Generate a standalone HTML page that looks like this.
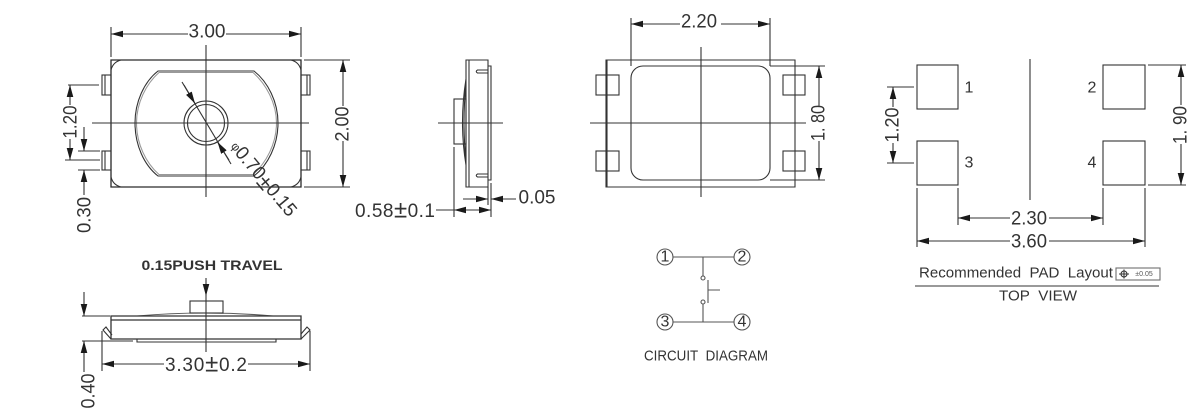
<!DOCTYPE html>
<html>
<head>
<meta charset="utf-8">
<style>
html,body{margin:0;padding:0;background:#fff;width:1199px;height:415px;overflow:hidden}
svg{display:block;filter:blur(0.35px)}
.l{stroke:#333;stroke-width:1.1;fill:none}
.b{stroke:#2a2a2a;stroke-width:1.3;fill:none}
.t{font-family:"Liberation Sans",sans-serif;font-size:19px;fill:#333;text-anchor:middle;dominant-baseline:central}
.s{font-family:"Liberation Sans",sans-serif;font-size:16px;fill:#333;text-anchor:middle;dominant-baseline:central}
.pm{font-size:24px}
</style>
</head>
<body>
<svg width="1199" height="415" viewBox="0 0 1199 415" xmlns="http://www.w3.org/2000/svg">
<defs>
<marker id="a" markerUnits="userSpaceOnUse" markerWidth="14" markerHeight="8" refX="12" refY="4" orient="auto-start-reverse">
<path d="M0 0.7L12 4L0 7.300Z" fill="#1a1a1a"/>
</marker>
</defs>

<!-- Top view -->
<g class="b">
<path d="M111 60H301V187H111Z"/>
<path d="M111 70Q113 62 121 60M291 60Q299 62 301 70M111 177Q113 185 121 187M291 187Q299 185 301 177" class="l"/>
<path d="M158 71H254C268 82 278 102 278 123C278 145 268 165 254 176H158C144 165 135 145 135 123C135 102 144 82 158 71Z" class="l"/>
<path d="M159 72.500H253C266 84 276.500 103 276.500 123C276.500 144 266 163 253 174.500H159C146 163 136.500 144 136.500 123C136.500 103 146 84 159 72.500Z" class="l" stroke-opacity=".5"/>
<circle cx="206" cy="123" r="22" class="l"/>
<circle cx="206" cy="123" r="18.500" class="l"/>
</g>
<g class="l">
<path d="M206 45V197M92 123H309"/>
<rect x="102" y="75" width="9" height="20"/><path d="M105 75V95"/>
<rect x="102" y="151" width="9" height="19"/><path d="M105 151V170"/>
<rect x="301" y="75" width="9" height="20"/><path d="M307 75V95"/>
<rect x="301" y="151" width="9" height="19"/><path d="M307 151V170"/>
<path d="M111 27V57M301 27V57"/>
<path d="M188 34H111" marker-end="url(#a)"/><path d="M226 34H301" marker-end="url(#a)"/>
<path d="M304 60H350M304 187H350"/>
<path d="M343 106V60" marker-end="url(#a)"/><path d="M343 141V187" marker-end="url(#a)"/>
<path d="M68 85H99M65 160H100M78 151H100M78 170H100"/>
<path d="M70 105V85" marker-end="url(#a)"/><path d="M70 139V160" marker-end="url(#a)"/>
<path d="M84 127V151" marker-end="url(#a)"/><path d="M84 195V170" marker-end="url(#a)"/>
<path d="M182 82L231 164"/>
<path d="M184 85L195 103.500" marker-end="url(#a)"/>
<path d="M229 160L217.500 142" marker-end="url(#a)"/>
</g>
<text class="t" x="207" y="32" textLength="37" lengthAdjust="spacingAndGlyphs">3.00</text>
<text class="t" transform="rotate(-90 343 124)" x="343" y="124" textLength="35" lengthAdjust="spacingAndGlyphs">2.00</text>
<text class="t" transform="rotate(-90 71 122)" x="71" y="122" textLength="33" lengthAdjust="spacingAndGlyphs">1.20</text>
<text class="t" transform="rotate(-90 85 215)" x="85" y="215" textLength="36" lengthAdjust="spacingAndGlyphs">0.30</text>
<text class="t" transform="rotate(50 263 179)" x="263" y="179" textLength="92" lengthAdjust="spacingAndGlyphs"><tspan style="font-size:12px">&#966;</tspan>0.70<tspan style="font-size:22px">&#177;</tspan>0.15</text>

<!-- Front view -->
<text class="t" x="212" y="265" textLength="141" lengthAdjust="spacingAndGlyphs" style="font-size:14px;font-weight:bold">0.15PUSH TRAVEL</text>
<g class="l">
<path d="M206 278V296" marker-end="url(#a)"/>
<path d="M206 296V352"/>
<rect x="190" y="301" width="33" height="12"/>
<path d="M137 316Q205 310 273 316" stroke-opacity=".8"/>
<path d="M137 339V342H276V339"/>
<path d="M82 316H110M82 341H133"/>
<path d="M84 292V316" marker-end="url(#a)"/><path d="M84 372V341" marker-end="url(#a)"/>
<path d="M102 331V371M310 331V371"/>
<path d="M164 364H102" marker-end="url(#a)"/><path d="M248 364H310" marker-end="url(#a)"/>
<path d="M111 339L103 330L106 327L112 335M301 339L310 330L307 327L301 334"/>
</g>
<g class="l" style="stroke-width:1.3"><path d="M111 316H301V320H111ZM111 320V339H301V320"/></g>
<text class="t" x="206" y="365" textLength="82"><tspan>3.30</tspan><tspan class="pm" dy="-1.500">&#177;</tspan><tspan dy="1.500">0.2</tspan></text>
<text class="t" transform="rotate(-90 89 391)" x="89" y="391" textLength="35" lengthAdjust="spacingAndGlyphs">0.40</text>

<!-- Side view -->
<g class="l">
<path d="M466 60H488V187H466ZM469 60V187"/>
<path d="M488 66H491V180H488"/>
<rect x="454" y="99" width="12" height="45"/>
<path d="M466 79Q459 123 466 165M466 84Q462 123 466 160"/>
<path d="M438 123H503"/>
<path d="M488 70H477.500Q475 71.500 477.500 73H488M488 174H477.500Q475 175.500 477.500 177H488"/>
<path d="M454 147V217M491 183V217M488 187V205"/>
<path d="M436 210H454"/>
<path d="M473 210H454" marker-end="url(#a)"/><path d="M472 210H491" marker-end="url(#a)"/>
<path d="M463 199H488" marker-end="url(#a)"/><path d="M516 199H491" marker-end="url(#a)"/>
</g>
<text class="t" x="395" y="211" textLength="80"><tspan>0.58</tspan><tspan class="pm" dy="-1.500">&#177;</tspan><tspan dy="1.500">0.1</tspan></text>
<text class="t" x="537" y="198" textLength="37" lengthAdjust="spacingAndGlyphs">0.05</text>

<!-- Bottom view -->
<g class="l">
<path d="M606 60H795V187H606Z"/>
<path d="M607 60V187"/>
<rect x="631" y="66" width="139" height="114" rx="12"/>
<path d="M701 47V197M590 123H806"/>
<rect x="596" y="75" width="23" height="20"/><rect x="596" y="151" width="23" height="20"/>
<rect x="783" y="75" width="22" height="20"/><rect x="783" y="151" width="22" height="20"/>
<path d="M631 18V66M770 18V66"/>
<path d="M680 24H631" marker-end="url(#a)"/><path d="M721 24H770" marker-end="url(#a)"/>
<path d="M770 66H825M770 180H825"/>
<path d="M819 106V66" marker-end="url(#a)"/><path d="M819 141V180" marker-end="url(#a)"/>
</g>
<text class="t" x="699" y="22" textLength="36" lengthAdjust="spacingAndGlyphs">2.20</text>
<text class="t" transform="rotate(-90 819 123)" x="819" y="123" textLength="36" lengthAdjust="spacingAndGlyphs">1.&#160;80</text>

<!-- Circuit -->
<g class="l" style="stroke:#555">
<circle cx="665" cy="257" r="8"/><circle cx="742" cy="257" r="8"/>
<circle cx="665" cy="322" r="8"/><circle cx="742" cy="322" r="8"/>
<path d="M673 257H734M673 322H734M703 257V276M703 304V322"/>
<circle cx="703" cy="278" r="2"/><circle cx="703" cy="302" r="2"/>
<path d="M708 280V303M708 290H720"/>
</g>
<text class="s" x="665" y="257">1</text>
<text class="s" x="742" y="257">2</text>
<text class="s" x="665" y="322">3</text>
<text class="s" x="742" y="322">4</text>
<text class="s" x="706" y="356" textLength="124" lengthAdjust="spacingAndGlyphs" style="font-size:15px">CIRCUIT&#160;&#160;DIAGRAM</text>

<!-- PAD layout -->
<g class="l">
<rect x="917" y="65" width="41" height="44"/><rect x="917" y="141" width="41" height="44"/>
<rect x="1103" y="65" width="42" height="44"/><rect x="1103" y="141" width="42" height="44"/>
<path d="M1030 59V200"/>
<path d="M887 87H914M887 163H914"/>
<path d="M893 107V87" marker-end="url(#a)"/><path d="M893 143V163" marker-end="url(#a)"/>
<path d="M1148 65H1186M1148 185H1186"/>
<path d="M1181 105V65" marker-end="url(#a)"/><path d="M1181 144V185" marker-end="url(#a)"/>
<path d="M958 188V225M1103 188V225M917 188V247M1145 188V247"/>
<path d="M1010 218H958" marker-end="url(#a)"/><path d="M1049 218H1103" marker-end="url(#a)"/>
<path d="M1010 241H917" marker-end="url(#a)"/><path d="M1049 241H1145" marker-end="url(#a)"/>
<path d="M915 286H1159"/>
<rect x="1116" y="268" width="44" height="12" stroke-opacity=".7"/>
<circle cx="1124" cy="274" r="3"/>
<path d="M1119 274H1129M1124 269.500V278.500"/>
</g>
<text class="s" x="969" y="88">1</text>
<text class="s" x="1092" y="88">2</text>
<text class="s" x="969" y="163">3</text>
<text class="s" x="1092" y="163">4</text>
<text class="t" transform="rotate(-90 893 125)" x="893" y="125" textLength="35" lengthAdjust="spacingAndGlyphs">1.20</text>
<text class="t" transform="rotate(-90 1181 125)" x="1181" y="125" textLength="38" lengthAdjust="spacingAndGlyphs">1.&#160;90</text>
<text class="t" x="1029" y="219" textLength="36" lengthAdjust="spacingAndGlyphs">2.30</text>
<text class="t" x="1029" y="242" textLength="36" lengthAdjust="spacingAndGlyphs">3.60</text>
<text class="s" x="1016" y="273" textLength="194" lengthAdjust="spacingAndGlyphs" style="font-size:15px">Recommended&#160;&#160;PAD&#160;&#160;Layout</text>
<text x="1144" y="274.500" font-family="'Liberation Sans',sans-serif" font-size="7" fill="#555" text-anchor="middle" dominant-baseline="central">&#177;0.05</text>
<text class="s" x="1038" y="296" textLength="78" lengthAdjust="spacingAndGlyphs" style="font-size:15px">TOP&#160;&#160;VIEW</text>
</svg>
</body>
</html>
